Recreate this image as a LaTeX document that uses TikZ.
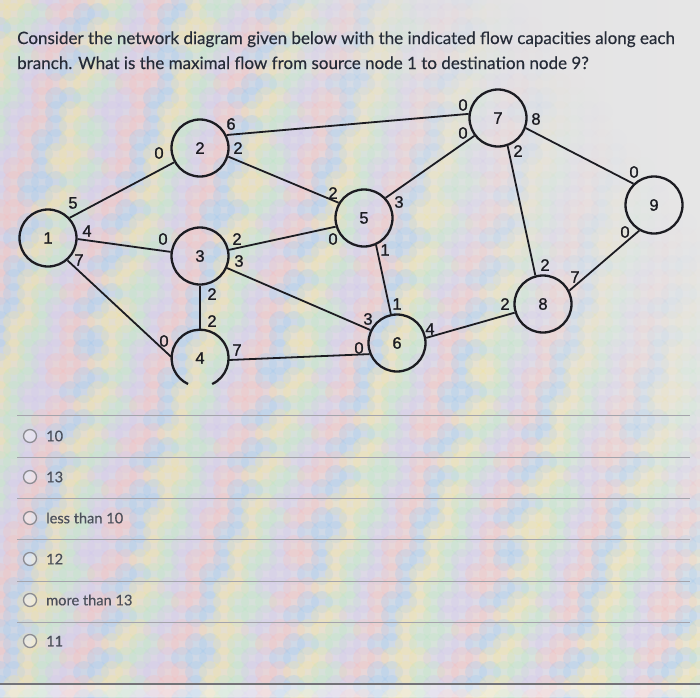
\documentclass[tikz,border=0pt]{standalone}
\usepackage{fontspec}
\setmainfont{Lato}[FakeBold=0.35]
\newfontfamily\diagfont{Liberation Sans}[FakeBold=1.2]
\definecolor{bgbase}{HTML}{DEDBE2}
\definecolor{bgright}{HTML}{E6E6E6}
\definecolor{ink}{HTML}{1C1C22}
\definecolor{qtext}{HTML}{262C38}
\definecolor{opttext}{HTML}{4A4F5A}
\definecolor{sepline}{HTML}{A4A4AC}
\definecolor{radio}{HTML}{8C8C92}
\definecolor{mpink}{HTML}{F4BFBF}
\definecolor{mblue}{HTML}{A6CBEE}
\definecolor{myellow}{HTML}{F0E2A2}
\definecolor{mgreen}{HTML}{BDE6C6}
\definecolor{mlav}{HTML}{D2C8EC}
\begin{document}
\begin{tikzpicture}[x=1pt,y=-1pt,
  vertex/.style={circle,draw=ink,line width=2.3pt,minimum size=57pt,inner sep=0pt,font=\diagfont\fontsize{16.5}{16}\selectfont,text=ink},
  hidden/.style={circle,minimum size=57pt,inner sep=0pt,font=\diagfont\fontsize{16.5}{16}\selectfont,text=ink},
  branch/.style={draw=ink,line width=1.8pt},
  capnum/.style={inner sep=0pt,font=\diagfont\fontsize{16.5}{16}\selectfont,text=ink},
  qline/.style={anchor=base west,inner sep=0pt,font=\fontsize{17}{19}\selectfont,text=qtext},
  opt/.style={anchor=west,inner sep=0pt,font=\fontsize{14.6}{16}\selectfont,text=opttext},
  radiobtn/.style={circle,draw=radio,line width=1.3pt,minimum size=13pt,inner sep=0pt,fill=white,fill opacity=0.35},
  sep/.style={draw=sepline,line width=0.8pt}]
\useasboundingbox (0,0) rectangle (700,697);
\shade[left color=bgbase,right color=bgright] (0,0) rectangle (700,697);
% moire-like pastel patches
\begin{scope}
\clip (0,0) rectangle (700,697);
\foreach \cx in {0,14,...,700}{
  \foreach \cy in {0,14,...,700}{
    \pgfmathtruncatemacro{\ci}{mod(floor((\cx+\cy)/30)+floor((\cx-\cy+900)/52),5)}
    \pgfmathsetmacro{\op}{0.3*max(0,min(1,(660-\cx)/330+(\cy-180)/420))}
    \ifcase\ci \def\cc{mpink}\or \def\cc{mblue}\or \def\cc{myellow}\or \def\cc{mgreen}\else \def\cc{mlav}\fi
    \fill[\cc,opacity=\op] (\cx,\cy) circle[radius=11pt];
  }
}
\end{scope}
\fill[white,opacity=0.35] (0,684) rectangle (700,697);

% question
\node[qline] (q1) at (17,44) {Consider the network diagram given below with the indicated flow capacities along each};
\node[qline] (q2) at (17,69) {branch. What is the maximal flow from source node 1 to destination node 9?};

% nodes
\node[vertex] (n1) at (48,238) {1};
\node[vertex] (n2) at (200,148) {2};
\node[vertex] (n3) at (200,256) {3};
\node[hidden] (n4) at (200,358) {4};
\node[vertex] (n5) at (364,218) {5};
\node[vertex] (n6) at (397,343) {6};
\node[vertex] (n7) at (498,118) {7};
\node[vertex] (n8) at (543,304) {8};
\node[vertex] (n9) at (654,205) {9};
\draw[draw=ink,line width=2.3pt] (n4.-65) arc[start angle=-65,end angle=245,radius=28.5pt];

% branches
\draw[branch] (n1.43) -- (n2.209);
\draw[branch] (n1.-2) -- (n3.172);
\draw[branch] (n1.-49) -- (n4.178);
\draw[branch] (n2.26) -- (n7.172);
\draw[branch] (n2.-17) -- (n5.149);
\draw[branch] (n3.12) -- (n5.197);
\draw[branch] (n3.-24) -- (n6.154);
\draw[branch] (n3.-90) -- (n4.90);
\draw[branch] (n4.-4) -- (n6.202);
\draw[branch] (n5.-66) -- (n6.102);
\draw[branch] (n5.43) -- (n7.217);
\draw[branch] (n6.10) -- (n8.197);
\draw[branch] (n7.-71) -- (n8.105);
\draw[branch] (n7.-20) -- (n9.134);
\draw[branch] (n8.27) -- (n9.240);

% capacities
\node[capnum] (c12a) at (73,203) {5};
\node[capnum] (c12b) at (159,153) {0};
\node[capnum] (c13a) at (87,231) {4};
\node[capnum] (c13b) at (163,239) {0};
\node[capnum] (c14a) at (79,260) {7};
\node[capnum] (c14b) at (164,341) {0};
\node[capnum] (c27a) at (231,124) {6};
\node[capnum] (c27b) at (463,105) {0};
\node[capnum] (c25a) at (238,148) {2};
\node[capnum] (c25b) at (333,193) {2};
\node[capnum] (c35a) at (237,239) {2};
\node[capnum] (c35b) at (333,239) {0};
\node[capnum] (c36a) at (239,261) {3};
\node[capnum] (c36b) at (368,319) {3};
\node[capnum] (c34a) at (212,294) {2};
\node[capnum] (c34b) at (212,321) {2};
\node[capnum] (c46a) at (237,350) {7};
\node[capnum] (c46b) at (359,348) {0};
\node[capnum] (c57a) at (399,202) {3};
\node[capnum] (c57b) at (463,133) {0};
\node[capnum] (c56a) at (385,250) {1};
\node[capnum] (c56b) at (397,304) {1};
\node[capnum] (c68a) at (430,329) {4};
\node[capnum] (c68b) at (505,304) {2};
\node[capnum] (c78a) at (518,151) {2};
\node[capnum] (c78b) at (545,265) {2};
\node[capnum] (c79a) at (536,119) {8};
\node[capnum] (c79b) at (634,172) {0};
\node[capnum] (c89a) at (575,277) {7};
\node[capnum] (c89b) at (625,232) {0};

% answer options
\draw[sep] (17,415) -- (690,415);
\draw[sep] (17,457) -- (690,457);
\draw[sep] (17,498) -- (690,498);
\draw[sep] (17,539) -- (690,539);
\draw[sep] (17,581) -- (690,581);
\draw[sep] (17,622) -- (690,622);
\draw[draw=sepline!70!black,line width=1.2pt] (0,684) -- (700,684);

\node[radiobtn] (r1) at (30,436) {};
\node[radiobtn] (r2) at (30,477) {};
\node[radiobtn] (r3) at (30,518) {};
\node[radiobtn] (r4) at (30,559) {};
\node[radiobtn] (r5) at (30,600) {};
\node[radiobtn] (r6) at (30,641) {};
\node[opt] (o1) at (46,436) {10};
\node[opt] (o2) at (46,477) {13};
\node[opt] (o3) at (46,518) {less than 10};
\node[opt] (o4) at (46,559) {12};
\node[opt] (o5) at (46,600) {more than 13};
\node[opt] (o6) at (46,641) {11};
\end{tikzpicture}
\end{document}
